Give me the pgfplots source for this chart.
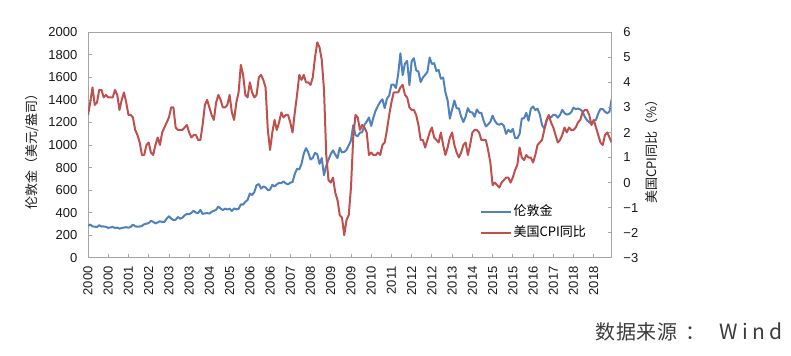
\documentclass[border=0pt]{standalone}
\usepackage{pgfplots}
\pgfplotsset{compat=1.18}
\usepackage{pgfplotstable}
\usepackage{fontspec}
\setmainfont{Liberation Sans}
\newfontfamily\cjk{Noto Sans CJK SC}
\newfontfamily\cjkls[LetterSpace=3]{Noto Sans CJK SC}
\newfontfamily\latwide[LetterSpace=22]{Noto Sans CJK SC}
\definecolor{goldblue}{RGB}{79,129,189}
\definecolor{cpired}{RGB}{192,80,77}
\definecolor{axgray}{RGB}{165,165,165}
\definecolor{srcgray}{RGB}{60,60,60}
\newcommand\tf{\fontsize{13bp}{15.6bp}\selectfont}

% m = months since Jan 2000; gold = month-end price (USD/oz); cpi = US CPI yoy (%)
\pgfplotstableread{
m gold cpi
0 283.3 2.7
1 293.7 3.2
2 278.4 3.8
3 275.1 3.1
4 272.3 3.2
5 288.2 3.7
6 276.8 3.7
7 277.0 3.4
8 273.7 3.5
9 264.5 3.4
10 269.1 3.4
11 272.7 3.4
12 264.5 3.7
13 266.7 3.5
14 257.7 2.9
15 263.2 3.3
16 267.5 3.6
17 270.6 3.2
18 265.9 2.7
19 273.0 2.7
20 293.1 2.6
21 278.8 2.1
22 275.5 1.9
23 276.5 1.6
24 282.3 1.1
25 296.9 1.1
26 301.4 1.5
27 308.2 1.6
28 326.6 1.2
29 318.5 1.1
30 304.7 1.5
31 312.8 1.8
32 323.7 1.5
33 316.9 2.0
34 317.1 2.2
35 347.2 2.4
36 367.5 2.6
37 347.5 3.0
38 334.9 3.0
39 336.8 2.2
40 361.4 2.1
41 346.0 2.1
42 354.8 2.1
43 375.6 2.2
44 388.0 2.3
45 386.3 2.0
46 398.4 1.8
47 416.3 1.9
48 399.8 1.9
49 395.9 1.7
50 423.7 1.7
51 388.5 2.3
52 393.3 3.1
53 395.8 3.3
54 391.4 3.0
55 407.3 2.7
56 415.7 2.5
57 425.6 3.2
58 453.4 3.5
59 435.6 3.3
60 422.2 3.0
61 435.5 3.0
62 427.5 3.1
63 435.7 3.5
64 414.5 2.8
65 437.1 2.5
66 429.0 3.2
67 433.3 3.6
68 473.3 4.7
69 470.8 4.3
70 495.7 3.5
71 513.0 3.4
72 568.8 4.0
73 556.0 3.6
74 582.0 3.4
75 644.0 3.5
76 653.0 4.2
77 613.5 4.3
78 632.5 4.1
79 623.5 3.8
80 599.3 2.1
81 603.8 1.3
82 646.7 2.0
83 632.0 2.5
84 650.5 2.1
85 664.2 2.4
86 661.8 2.8
87 677.0 2.6
88 659.1 2.7
89 650.5 2.7
90 665.5 2.4
91 672.0 2.0
92 743.0 2.8
93 789.5 3.5
94 783.5 4.3
95 833.8 4.1
96 923.3 4.3
97 971.5 4.0
98 933.5 4.0
99 871.0 3.9
100 885.8 4.2
101 930.3 5.0
102 918.0 5.6
103 833.0 5.4
104 884.5 4.9
105 730.8 3.7
106 814.5 1.1
107 869.8 0.1
108 919.5 0.0
109 952.0 0.2
110 916.5 -0.4
111 883.3 -0.7
112 975.5 -1.3
113 934.5 -1.4
114 939.0 -2.1
115 955.5 -1.5
116 995.8 -1.3
117 1040.0 -0.2
118 1175.8 1.8
119 1087.5 2.7
120 1078.5 2.6
121 1109.5 2.1
122 1113.3 2.3
123 1179.3 2.2
124 1207.5 2.0
125 1244.0 1.1
126 1169.0 1.2
127 1246.0 1.1
128 1307.0 1.1
129 1346.8 1.2
130 1383.5 1.1
131 1405.5 1.5
132 1327.0 1.6
133 1411.0 2.1
134 1439.0 2.7
135 1535.5 3.2
136 1536.5 3.6
137 1505.5 3.6
138 1628.5 3.6
139 1813.5 3.8
140 1620.0 3.9
141 1722.0 3.5
142 1746.0 3.4
143 1531.0 3.0
144 1744.0 2.9
145 1770.0 2.9
146 1662.5 2.7
147 1651.3 2.3
148 1558.0 1.7
149 1598.5 1.7
150 1622.0 1.4
151 1648.5 1.7
152 1776.0 2.0
153 1719.0 2.2
154 1726.0 1.8
155 1657.5 1.7
156 1664.8 1.6
157 1588.5 2.0
158 1598.3 1.5
159 1469.0 1.1
160 1394.5 1.4
161 1234.5 1.8
162 1314.5 2.0
163 1394.8 1.5
164 1326.5 1.2
165 1324.0 1.0
166 1253.0 1.2
167 1204.5 1.5
168 1251.0 1.6
169 1326.5 1.1
170 1291.8 1.5
171 1288.5 2.0
172 1250.5 2.1
173 1315.0 2.1
174 1285.8 2.0
175 1285.8 1.7
176 1216.5 1.7
177 1164.3 1.7
178 1182.8 1.3
179 1206.0 0.8
180 1260.3 -0.1
181 1214.0 0.0
182 1187.0 -0.1
183 1180.3 -0.2
184 1190.0 0.0
185 1171.0 0.1
186 1098.4 0.2
187 1135.0 0.2
188 1114.0 0.0
189 1142.4 0.2
190 1061.8 0.5
191 1060.0 0.7
192 1097.4 1.4
193 1234.9 1.0
194 1237.0 0.9
195 1285.7 1.1
196 1214.7 1.0
197 1320.8 1.0
198 1342.0 0.8
199 1309.3 1.1
200 1322.5 1.5
201 1272.0 1.6
202 1178.1 1.7
203 1145.9 2.1
204 1212.8 2.5
205 1255.6 2.7
206 1244.9 2.4
207 1266.5 2.2
208 1266.2 1.9
209 1242.3 1.6
210 1267.6 1.7
211 1311.8 1.9
212 1283.1 2.2
213 1270.2 2.0
214 1275.2 2.2
215 1291.0 2.1
216 1331.3 2.1
217 1318.4 2.2
218 1323.9 2.4
219 1315.1 2.5
220 1298.3 2.8
221 1250.5 2.9
222 1220.9 2.9
223 1201.5 2.7
224 1187.3 2.3
225 1214.7 2.5
226 1222.5 2.2
227 1279.0 1.9
228 1319.8 1.6
229 1319.3 1.5
230 1295.4 1.9
231 1282.2 2.0
232 1295.5 1.8
233 1409.0 1.6
}\data

\pgfplotsset{
  common/.style={
    at={(88bp,97.3bp)}, anchor=south west,
    scale only axis, width=523.7bp, height=225.4bp,
    xmin=0, xmax=233, enlargelimits=false,
    axis line style={axgray, line width=0.9bp},
    tick style={axgray, line width=0.8bp},
    tick align=inside, major tick length=3.5bp,
    tick label style={font=\tf, inner sep=0pt, text=black!90},
  }
}

\begin{document}
\begin{tikzpicture}[x=1bp,y=1bp]
\useasboundingbox (0,0) rectangle (791,355);

\begin{axis}[common,
  ymin=0, ymax=2000,
  ytick={0,200,...,2000},
  yticklabels={0,200,400,600,800,1000,1200,1400,1600,1800,2000},
  ytick pos=left, xtick pos=bottom,
  xtick={0,9,...,225},
  xticklabels={2000,2000,2001,2002,2003,2003,2004,2005,2006,2006,2007,2008,2009,2009,2010,2011,2012,2012,2013,2014,2015,2015,2016,2017,2018,2018},
  x tick label style={rotate=90, anchor=east},
  xticklabel shift=8.5bp,
  yticklabel shift=10.5bp,
  ylabel={伦敦金（美元/盎司）},
  every axis y label/.style={at={(axis description cs:-0.1075,0.485)}, rotate=90, anchor=center, font=\tf\cjk, text=black!90},
]
\addplot[goldblue, line width=2bp, line join=round, no markers] table[x=m, y=gold]{\data};
\end{axis}

\begin{axis}[common,
  axis x line=none,
  axis y line*=right,
  ymin=-3, ymax=6,
  ytick={-3,...,6},
  yticklabels={−3,−2,−1,0,1,2,3,4,5,6},
  yticklabel shift=11.5bp,
  ylabel={美国CPI同比（\%）},
  every axis y label/.style={at={(axis description cs:1.0764,0.485)}, rotate=90, anchor=center, font=\tf\cjk, text=black!90},
  legend style={draw=none, fill=none, at={(0.7485,0.2396)}, anchor=north west,
    inner sep=0pt, outer sep=0pt, row sep=5.6bp, font=\tf,
    nodes={inner sep=1.5bp, text height=10bp, text depth=3bp}},
  legend cell align=left,
  legend image code/.code={\draw[#1] (0bp,0bp) -- (30bp,0bp);},
]
\addlegendimage{goldblue, line width=2bp}
\addlegendentry{\cjk 伦敦金}
\addplot[cpired, line width=2bp, line join=round, no markers] table[x=m, y=cpi]{\data};
\addlegendentry{\cjk 美国CPI同比}
\end{axis}

\node[anchor=base west, inner sep=0pt, text=srcgray] at (595.5,15.5)
  {\fontsize{20bp}{24bp}\selectfont\cjkls 数据来源\hspace{8bp}：\hspace{13.5bp}\fontsize{21bp}{24bp}\selectfont\latwide Wind};
\end{tikzpicture}
\end{document}
